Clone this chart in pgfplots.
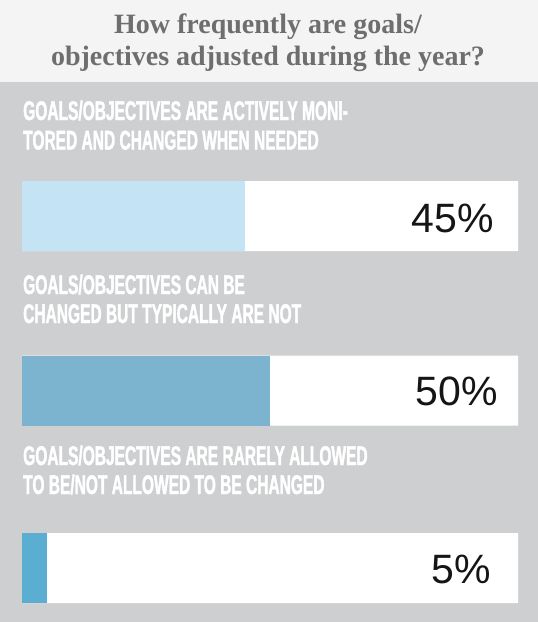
\documentclass[border=0pt]{standalone}
\usepackage{pgfplots}
\pgfplotsset{compat=1.18}
\usepackage{fontspec}
\setmainfont{Liberation Serif}
\newfontfamily\labelfont[FakeStretch=0.575,FakeBold=1.4]{Liberation Sans Bold}
\newfontfamily\pctfont{Liberation Sans}
\definecolor{bandbg}{HTML}{F4F4F4}
\definecolor{greybg}{HTML}{CDCFD1}
\definecolor{titlecol}{HTML}{6E6E6E}
\definecolor{cA}{HTML}{C4E4F6}
\definecolor{cB}{HTML}{7CB4CF}
\definecolor{cC}{HTML}{5AAED1}
\definecolor{pctcol}{HTML}{151515}
\begin{document}
\begin{tikzpicture}[x=1pt,y=1pt]
\fill[bandbg] (0,0) rectangle (538,-82);
\fill[greybg] (0,-82) rectangle (538,-622);
\begin{axis}[
  at={(22pt,0pt)}, anchor=north west,
  scale only axis, width=496pt, height=622pt,
  xmin=0, xmax=100, ymin=0, ymax=622, y dir=reverse,
  hide axis, clip=false,
  xbar, bar width=70pt, bar shift=0pt,
]
\addplot[fill=white, draw=none] coordinates {(100,216) (100,390.5) (100,568)};
\addplot[fill=cA, draw=none] coordinates {(45,216)};
\addplot[fill=cB, draw=none] coordinates {(50,390.5)};
\addplot[fill=cC, draw=none] coordinates {(5,568)};
\end{axis}
% title
\node[anchor=base, font=\fontsize{28}{33}\selectfont\bfseries, text=titlecol, inner sep=0pt] at (268,-33.5) {How frequently are goals/};
\node[anchor=base, font=\fontsize{28}{33}\selectfont\bfseries, text=titlecol, inner sep=0pt] at (268,-65) {objectives adjusted during the year?};
% category labels
\begin{scope}[every node/.style={anchor=base west, inner sep=0pt, text=white, font=\labelfont\fontsize{27}{29}\selectfont}]
\node at (23,-120) {GOALS/OBJECTIVES ARE ACTIVELY MONI-};
\node at (23,-149.5) {TORED AND CHANGED WHEN NEEDED};
\node at (23,-294) {GOALS/OBJECTIVES CAN BE};
\node at (23,-323) {CHANGED BUT TYPICALLY ARE NOT};
\node at (23,-465) {GOALS/OBJECTIVES ARE RARELY ALLOWED};
\node at (23,-494) {TO BE/NOT ALLOWED TO BE CHANGED};
\end{scope}
% percentages
\begin{scope}[every node/.style={anchor=base east, inner sep=0pt, text=pctcol, font=\pctfont\fontsize{41}{46}\selectfont}]
\node at (494,-232) {45\%};
\node at (498,-405.5) {50\%};
\node at (491,-583) {5\%};
\end{scope}
\end{tikzpicture}
\end{document}
